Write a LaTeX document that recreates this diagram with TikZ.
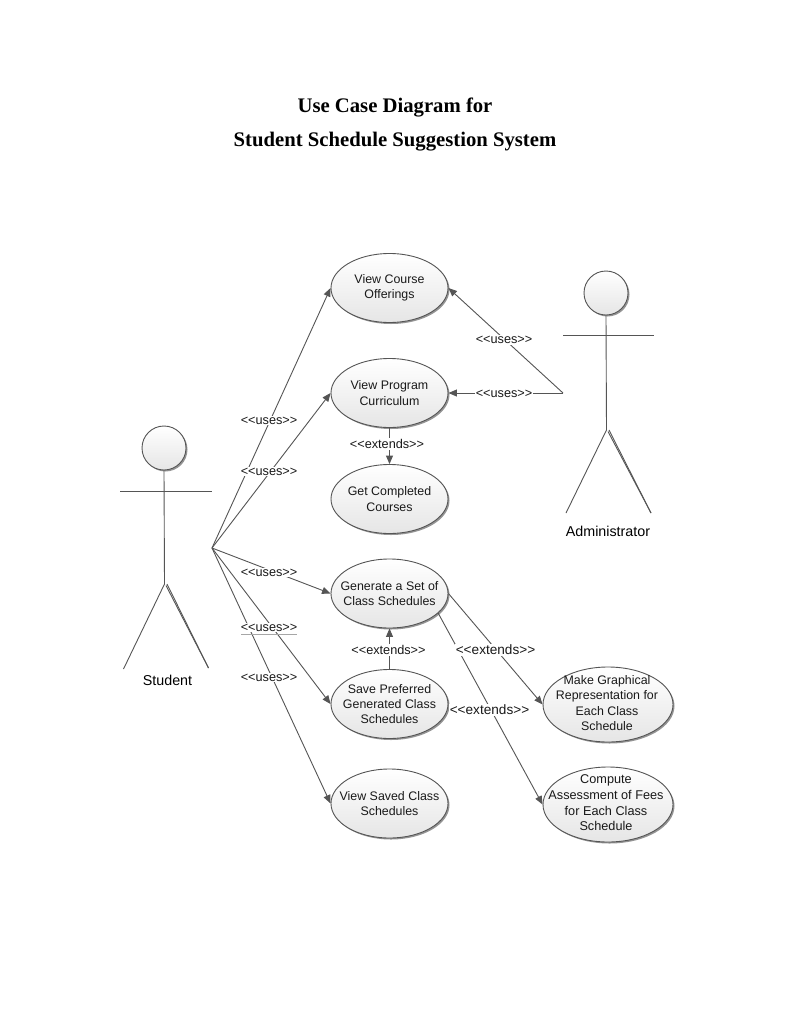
\documentclass[tikz,border=0pt]{standalone}
\usepackage{fontspec}
\setmainfont{Liberation Sans}
\newfontfamily\titlefont{Liberation Serif}
\usetikzlibrary{arrows.meta,shapes.geometric,shadows}
\definecolor{ln}{HTML}{555555}
\tikzset{
  usecase/.style={ellipse,draw=ln,line width=0.9pt,top color=white,bottom color=black!10,
    minimum width=117pt,minimum height=69pt,inner xsep=-45pt,inner ysep=-25pt,align=center,
    font=\fontsize{12.4}{15.4}\selectfont,text=black!90,
    drop shadow={shadow xshift=1.5pt,shadow yshift=-1.5pt,fill=black!42,opacity=1}},
  bigcase/.style={usecase,minimum width=130pt,minimum height=75pt},
  head/.style={circle,draw=ln,line width=0.9pt,top color=white,bottom color=black!10,
    minimum size=44pt,inner sep=0pt,
    drop shadow={shadow xshift=1.5pt,shadow yshift=-1.5pt,fill=black!42,opacity=1}},
  lbl/.style={fill=white,inner xsep=0.5pt,inner ysep=1pt,font=\fontsize{12.7}{14}\selectfont,text=black!90},
  widelbl/.style={lbl,font=\fontsize{13.6}{14}\selectfont},
  link/.style={draw=ln,line width=0.9pt},
  arrowlink/.style={link,-{Triangle[length=8.5pt,width=7pt]},ln},
  actorname/.style={font=\fontsize{14.3}{16}\selectfont,text=black},
  titletext/.style={font=\titlefont\bfseries\fontsize{20.7}{24}\selectfont,text=black}
}
\begin{document}
\begin{tikzpicture}[x=1pt,y=-1pt]
\useasboundingbox[fill=white] (0,0) rectangle (791,1023);
\node[titletext] (t1) at (395,107) {Use Case Diagram for};
\node[titletext] (t2) at (395,142) {Student Schedule Suggestion System};

% use cases
\node[usecase] (vco) at (389.5,288) {View Course\\Offerings};
\node[usecase] (vpc) at (389.5,393) {View Program\\Curriculum};
\node[usecase] (gcc) at (389.5,499) {Get Completed\\Courses};
\node[usecase] (gen) at (389.5,593.5) {Generate a Set of\\Class Schedules};
\node[usecase] (sav) at (389.5,704) {Save Preferred\\Generated Class\\Schedules};
\node[usecase] (vsc) at (389.5,803.5) {View Saved Class\\Schedules};
\node[bigcase] (mak) at (608,704.5) {};
\node[bigcase] (cmp) at (608,804.5) {};
\node[align=center,font=\fontsize{12.4}{15.6}\selectfont,text=black!90,inner sep=0pt] (makt) at (607,703) {Make Graphical\\Representation for\\Each Class\\Schedule};
\node[align=center,font=\fontsize{12.7}{15.6}\selectfont,text=black!90,inner sep=0pt] (cmpt) at (606,803) {Compute\\Assessment of Fees\\for Each Class\\Schedule};

% student actor
\node[head] (shead) at (164,448) {};
\coordinate (sarmL) at (120,491);
\coordinate (sarmR) at (212,491);
\coordinate (scrotch) at (164.5,584);
\coordinate (scrotch2) at (167,584);
\coordinate (slegL) at (123.5,669);
\coordinate (slegR) at (208.5,668);
\draw[link] (shead.south) -- (scrotch);
\draw[link] (sarmL) -- (sarmR);
\draw[link] (scrotch) -- (slegL);
\draw[link] (scrotch2) -- (slegR);
\draw[link] (scrotch2) ++(-1,1.5) -- (slegR);
\node[actorname] (sname) at (167.5,680) {Student};

% administrator actor
\node[head] (ahead) at (606,293) {};
\coordinate (aarmL) at (563,335);
\coordinate (aarmR) at (654,335);
\coordinate (acrotch) at (606.5,430);
\coordinate (acrotch2) at (609,430);
\coordinate (alegL) at (566,513);
\coordinate (alegR) at (651,513);
\draw[link] (ahead.south) -- (acrotch);
\draw[link] (aarmL) -- (aarmR);
\draw[link] (acrotch) -- (alegL);
\draw[link] (acrotch2) -- (alegR);
\draw[link] (acrotch2) ++(-1,1.5) -- (alegR);
\node[actorname] (aname) at (608,531) {Administrator};

% connector hubs
\coordinate (shub) at (212,548);
\coordinate (ahub) at (563,393);

\draw[arrowlink] (shub) -- (vco.west);
\draw[arrowlink] (shub) -- (vpc.west);
\draw[arrowlink] (shub) -- (gen.west);
\draw[arrowlink] (shub) -- (sav.west);
\draw[arrowlink] (shub) -- (vsc.west);
\draw[arrowlink] (ahub) -- (vco.east);
\draw[arrowlink] (ahub) -- (vpc.east);
\draw[arrowlink] (vpc.south) -- (gcc.north);
\draw[arrowlink] (sav.north) -- (gen.south);
\draw[arrowlink] (gen.east) -- (mak.west);
\draw[arrowlink] (gen.-22) -- (cmp.west);

% grey rule under the fourth label
\coordinate (ruleL) at (241,634.5);
\coordinate (ruleR) at (297,634.5);
\draw[black!35,line width=0.6pt] (ruleL) -- (ruleR);

% labels
\node[lbl] (u1) at (269,420.5) {<{}<uses>{}>};
\node[lbl] (u2) at (269,471.5) {<{}<uses>{}>};
\node[lbl] (u3) at (269,572.5) {<{}<uses>{}>};
\node[lbl] (u4) at (269,627.5) {<{}<uses>{}>};
\node[lbl] (u5) at (269,677.5) {<{}<uses>{}>};
\node[lbl] (u6) at (504,340) {<{}<uses>{}>};
\node[lbl] (u7) at (504,393.5) {<{}<uses>{}>};
\node[lbl] (e1) at (387,444) {<{}<extends>{}>};
\node[lbl] (e2) at (388.5,650) {<{}<extends>{}>};
\node[widelbl] (e3) at (495.5,650) {<{}<extends>{}>};
\node[widelbl] (e4) at (489.5,710) {<{}<extends>{}>};
\end{tikzpicture}
\end{document}
